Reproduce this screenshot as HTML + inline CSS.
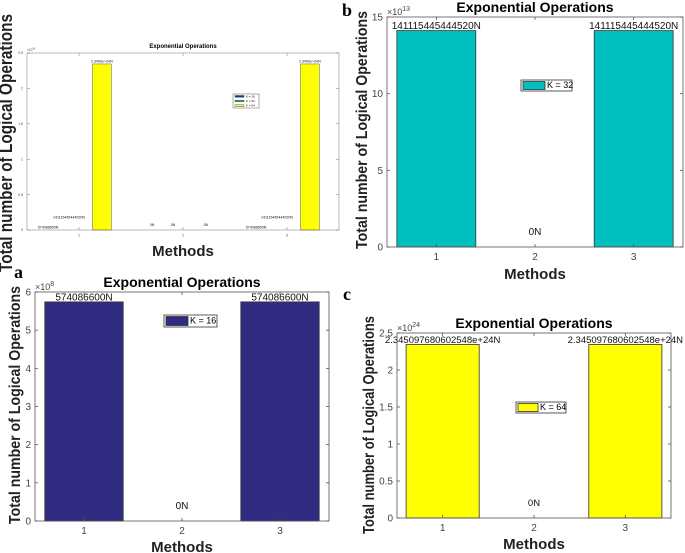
<!DOCTYPE html>
<html><head><meta charset="utf-8"><style>
html,body{margin:0;padding:0;background:#fff;}
svg{display:block;font-family:"Liberation Sans",Arial,sans-serif;}
</style></head><body>
<svg id="fig" width="685" height="553" viewBox="0 0 685 553"></svg>
<script>
// ---- data ----
const categories = ["1","2","3"];
const k16Values = [574086600, 0, 574086600];
const k32Values = [141115445444520, 0, 141115445444520];
const k64Values = [2.3450976806025e24, 0, 2.3450976806025e24];
const k16Labels = ["574086600N","0N","574086600N"];
const k32Labels = ["141115445444520N","0N","141115445444520N"];
const k64Labels = ["2.345097680602548e+24N","0N","2.345097680602548e+24N"];
const aTicks = [0,1,2,3,4,5,6];
const bTicks = [0,5,10,15];
const cTicks = [0,0.5,1,1.5,2,2.5];
const legendNames = ["K = 16","K = 32","K = 64"];

const NS="http://www.w3.org/2000/svg";
const svg=document.getElementById('fig');
function el(tag,attrs,parent,text){
  const e=document.createElementNS(NS,tag);
  for(const k in attrs) e.setAttribute(k,attrs[k]);
  if(text!==undefined) e.textContent=text;
  (parent||svg).appendChild(e);
  return e;
}

function panel(o){
  const g=el('g',{});
  
  
  const xs=v=>o.L+(v-0.5)/3*(o.R-o.L);
  const ys=v=>o.B-v/o.ymax*(o.B-o.T);
  if(o.letter){const t=el('text',{x:o.letterX,y:o.letterY,'font-size':18,'font-weight':'bold','font-family':'Liberation Serif,serif'},g,o.letter);
    }
  const tt=el('text',{x:(o.L+o.R)/2,y:o.T-5,'font-size':o.tf,'font-weight':'bold','text-anchor':'middle'},g,'Exponential Operations');
  
  o.series.forEach((s,si)=>{
    s.values.forEach((v,i)=>{
      const cx=i+1+s.off;
      const x0=xs(cx-s.w/2),x1=xs(cx+s.w/2);
      const r=el('rect',{x:x0,y:ys(v),width:x1-x0,height:o.B-ys(v),fill:s.color,stroke:'#333','stroke-width':o.sw},g);
      
      
      const lt=el('text',{x:xs(cx)+(s.lx||0),y:(v===0?o.B-o.zeroUp:ys(v)-1.5-(s.ly||0)),'font-size':o.vf,'text-anchor':'middle',fill:'#111'},g,s.labels[i]);
      
    });
  });
  const bx=el('rect',{x:o.L,y:o.T,width:o.R-o.L,height:o.B-o.T,fill:'none',stroke:'#555','stroke-width':o.sw},g);
  
  o.ticks.forEach((t,ti)=>{
    const y=ys(t);
    el('line',{x1:o.L,y1:y,x2:o.L+3,y2:y,stroke:'#555','stroke-width':o.sw},g);
    el('line',{x1:o.R,y1:y,x2:o.R-3,y2:y,stroke:'#555','stroke-width':o.sw},g);
    const tl=el('text',{x:o.L-4,y:y+o.kf*0.35,'font-size':o.kf,'text-anchor':'end',fill:'#444'},g,String(o.tickText[ti]));
    
  });
  categories.forEach((c,i)=>{
    const x=xs(i+1);
    el('line',{x1:x,y1:o.B,x2:x,y2:o.B-3,stroke:'#555','stroke-width':o.sw},g);
    el('line',{x1:x,y1:o.T,x2:x,y2:o.T+3,stroke:'#555','stroke-width':o.sw},g);
    const tl=el('text',{x:x,y:o.B+o.kf+3,'font-size':o.kf,'text-anchor':'middle',fill:'#444'},g,c);
    
  });
  const ex=el('text',{x:o.L,y:o.T-2,'font-size':o.kf*0.9,fill:'#444'},g,'\u00d710');
  el('tspan',{dy:-o.kf*0.4,'font-size':o.kf*0.7},ex,o.exp);
  
  const xl=el('text',{x:(o.L+o.R)/2,y:o.xlY,'font-size':o.lf,'font-weight':'bold','text-anchor':'middle',fill:'#222'},g,'Methods');
  
  const yl=el('text',{x:0,y:0,'font-size':o.ylf||o.lf,'font-weight':'bold','text-anchor':'middle',fill:'#222',
    textLength:o.ylLen,lengthAdjust:'spacingAndGlyphs',transform:`translate(${o.ylX},${o.ylY}) rotate(-90)`},g,'Total number of Logical Operations');
  
  const lg=el('g',{},g);
  
  const lh=o.leg.h/o.series.length;
  el('rect',{x:o.leg.x,y:o.leg.y,width:o.leg.w,height:o.leg.h,fill:'#fff',stroke:'#333','stroke-width':o.sw},lg);
  o.series.forEach((s,si)=>{
    const yy=o.leg.y+si*lh;
    const sw=el('rect',{x:o.leg.x+2,y:yy+1.5,width:o.leg.sw,height:lh-3,fill:s.color,stroke:'#333','stroke-width':o.sw},lg);
    
    const lt=el('text',{x:o.leg.x+o.leg.sw+4,y:yy+lh*0.72,'font-size':o.legf},lg,s.name);
    
  });
}

panel({name:'combined-chart',L:27,R:339,T:53,B:230,ymax:2.5e24,ticks:cTicks.map(v=>v*1e24),tickText:cTicks,exp:'24',
  tf:6,vf:3.6,kf:3.5,lf:15,ylf:18,ylLen:258,sw:0.4,zeroUp:4,xlY:256,ylX:12,ylY:143,legf:3,
  leg:{x:233,y:94,w:26,h:14,sw:9},
  series:[
   {key:'k16',name:legendNames[0],values:k16Values,labels:k16Labels,color:'#2e2883',off:-0.22,w:0.18,lx:-8},
   {key:'k32',name:legendNames[1],values:k32Values,labels:k32Labels,color:'#1fb9a8',off:0,w:0.18,lx:-10,ly:10},
   {key:'k64',name:legendNames[2],values:k64Values,labels:['2.3450e+24N','0N','2.3450e+24N'],color:'#ffff00',off:0.22,w:0.18}]});

panel({name:'panel-b-k32',letter:'b',letterX:342,letterY:16,L:387,R:683,T:17,B:247,ymax:15e13,ticks:bTicks.map(v=>v*1e13),tickText:bTicks,exp:'13',
  tf:14,vf:10,kf:10,lf:15,ylf:16,ylLen:238,sw:0.8,zeroUp:12,xlY:279,ylX:367,ylY:130,legf:9,
  leg:{x:521,y:80,w:51,h:11,sw:22},
  series:[{key:'k32',name:legendNames[1],values:k32Values,labels:k32Labels,color:'#00bfbf',off:0,w:0.8}]});

panel({name:'panel-a-k16',letter:'a',letterX:14,letterY:278,L:35,R:329,T:292,B:521,ymax:6e8,ticks:aTicks.map(v=>v*1e8),tickText:aTicks,exp:'8',
  tf:14,vf:10,kf:10,lf:15,ylf:16,ylLen:238,sw:0.8,zeroUp:12,xlY:552,ylX:20,ylY:405,legf:9,
  leg:{x:164,y:315,w:53,h:12,sw:22},
  series:[{key:'k16',name:legendNames[0],values:k16Values,labels:k16Labels,color:'#302c82',off:0,w:0.8}]});

panel({name:'panel-c-k64',letter:'c',letterX:343,letterY:300,L:397,R:671,T:333,B:518,ymax:2.5e24,ticks:cTicks.map(v=>v*1e24),tickText:cTicks,exp:'24',
  tf:14,vf:9.5,kf:10,lf:15,ylf:16,ylLen:218,sw:0.8,zeroUp:12,xlY:549,ylX:374,ylY:425,legf:9,
  leg:{x:516,y:402,w:50,h:11,sw:20},
  series:[{key:'k64',name:legendNames[2],values:k64Values,labels:k64Labels,color:'#ffff00',off:0,w:0.8}]});
</script>
</body></html>
